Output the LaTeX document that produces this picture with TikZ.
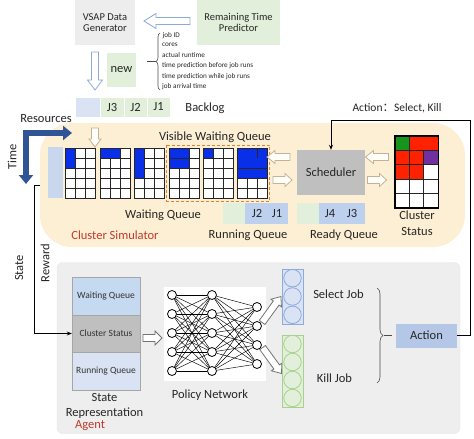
\documentclass[tikz,border=0pt]{standalone}
\usepackage{fontspec}
\setmainfont{Carlito}
\newfontfamily\cjk{Noto Sans CJK SC}
\usetikzlibrary{arrows.meta,decorations.pathreplacing,calc}

\definecolor{genGray}{HTML}{EDEDED}
\definecolor{lgreen}{HTML}{E2EFDA}
\definecolor{lblue}{HTML}{DAE3F3}
\definecolor{wqblue}{HTML}{C5D9F1}
\definecolor{mblue}{HTML}{BDD1EE}
\definecolor{actblue}{HTML}{B4C7E7}
\definecolor{simyellow}{HTML}{FCEFD3}
\definecolor{arrblue}{HTML}{2F5597}
\definecolor{jobblue}{HTML}{0A2FE8}
\definecolor{schedgray}{HTML}{BFBFBF}
\definecolor{simred}{HTML}{C0392B}
\definecolor{agentgray}{HTML}{EEEEEE}
\definecolor{csgreen}{HTML}{16941C}
\definecolor{csred}{HTML}{FF2200}
\definecolor{cspurple}{HTML}{7030A0}
\definecolor{dashorange}{HTML}{ED7D31}
\definecolor{stripblue}{HTML}{C9D7EE}
\definecolor{txtgray}{HTML}{262626}
\definecolor{selborder}{HTML}{8EA9DB}
\definecolor{killborder}{HTML}{A9D18E}
\definecolor{harrowB}{HTML}{BFB49A}

\newcommand\fmain{\fontsize{12.5}{15}\selectfont}
\newcommand\fsmall{\fontsize{7.2}{8}\selectfont}
\newcommand\fboxtxt{\fontsize{10.5}{11.5}\selectfont}

% hollow arrow: cx, cy, angle, length, shaft half width, head half width, head length, style
\newcommand\harrow[8]{%
\begin{scope}[shift={(#1,#2)},rotate=#3]
\draw[#8] (-#4/2,-#5) -- (#4/2-#7,-#5) -- (#4/2-#7,-#6) -- (#4/2,0) -- (#4/2-#7,#6) -- (#4/2-#7,#5) -- (-#4/2,#5) -- cycle;
\end{scope}}

% job grid 3x5 with cell 10
\newcommand\jobgrid[3]{%
\begin{scope}[shift={(#1,#2)}]
\fill[white] (0,0) rectangle (30,50);
\foreach \i in {10,20} \draw[gl] (\i,0) -- (\i,50);
\foreach \j in {10,20,30,40} \draw[gl] (0,\j) -- (30,\j);
#3
\draw[gl] (0,0) rectangle (30,50);
\end{scope}}

\begin{document}
\begin{tikzpicture}[x=1pt,y=-1pt,
  box/.style={inner sep=0, align=center, text=txtgray},
  lbl/.style={inner sep=0, font=\fmain, text=txtgray},
  lst/.style={inner sep=0, font=\fsmall, anchor=west, text=txtgray},
  cell/.style={inner sep=0, draw=white, line width=0.4pt, font=\fmain, text=txtgray},
  gl/.style={draw=black!85, line width=0.9pt},
  job/.style={fill=jobblue, draw=black!85, line width=0.9pt},
  hA/.style={draw=selborder, fill=white, line width=0.8pt},
  hB/.style={draw=harrowB, fill=white!85!simyellow, line width=0.8pt},
  hC/.style={draw=black!55, fill=white, line width=0.8pt},
  conn/.style={draw=black, line width=0.8pt},
  bigarrow/.style={draw=arrblue, line width=6pt, -{Triangle[length=9pt,width=14pt]}},
  neuron/.style={circle, draw=black, line width=0.8pt, fill=white, minimum size=9pt, inner sep=0},
  nnedge/.style={draw=black, line width=0.45pt},
  brc/.style={draw=black!70, line width=0.6pt, decorate}
]
\useasboundingbox (0,0) rectangle (474,439);

% ---------- top part ----------
\node[box, fill=genGray, minimum width=60, minimum height=45, font=\fboxtxt] (gen) at (105,22.5) {VSAP Data\\Generator};
\node[box, fill=lgreen, minimum width=83, minimum height=45, font=\fboxtxt] (pred) at (238.5,22.5) {Remaining Time\\Predictor};
\harrow{167}{21}{180}{46}{3.5}{7.5}{12}{hA}
\harrow{95}{71}{-90}{38}{3.5}{7.5}{10}{hA}
\node[box, fill=lgreen, minimum width=29, minimum height=34, font=\fmain] (new) at (121.5,70) {new};

\draw[brc, decoration={brace, amplitude=4pt}] (160,90) -- (160,33);
\coordinate (brtip) at (156,61.5);
\coordinate (brend) at (147,61.5);
\draw[draw=black!70, line width=0.6pt] (brtip) -- (brend);
\node[lst] (l1) at (162.5,36) {job ID};
\node[lst] (l2) at (162,44.5) {cores};
\node[lst] (l3) at (162,55) {actual runtime};
\node[lst] (l4) at (162,66) {time prediction before job runs};
\node[lst] (l5) at (162,76.5) {time prediction while job runs};
\node[lst] (l6) at (162,87) {job arrival time};

% backlog
\node[cell, fill=lblue, minimum width=25, minimum height=20] (b0) at (87.5,107) {};
\node[cell, fill=lgreen, minimum width=24, minimum height=20] (bJ3) at (112,107) {J3};
\node[cell, fill=lgreen, minimum width=23, minimum height=20] (bJ2) at (135.5,107) {J2};
\node[cell, fill=lgreen, minimum width=23, minimum height=20] (bJ1) at (158.5,107) {J1};
\node[lbl] (backlog) at (205,108) {Backlog};

\node[lbl, font=\fontsize{11.5}{13}\selectfont] (actlbl) at (397,108) {Action{\cjk ：}Select, Kill};
\node[lbl] (res) at (46,119) {Resources};

% ---------- cluster simulator ----------
\node[fill=simyellow, rounded corners=32, minimum width=425, minimum height=124, inner sep=0] (sim) at (252.5,185) {};

\coordinate (rtH) at (23,133);
\coordinate (resEnd) at (72,133);
\coordinate (rtV) at (26,130);
\coordinate (timeEnd) at (26,184);
\draw[bigarrow] (rtH) -- (resEnd);
\draw[bigarrow] (rtV) -- (timeEnd);
\node[lbl, rotate=90] (time) at (12,157) {Time};

\harrow{95}{137.5}{-90}{19}{3.5}{6}{8}{hB}
\node[lbl] (vwq) at (215,137) {Visible Waiting Queue};

\fill[stripblue] (48,147) rectangle (63,198);
\jobgrid{65}{148}{\draw[job] (0,0) rectangle (10,20);}
\jobgrid{100}{148}{\draw[job] (0,0) rectangle (20,10);}
\jobgrid{134}{148}{\draw[job] (0,0) rectangle (10,30);}
\jobgrid{169}{148}{\draw[job] (0,0) rectangle (20,20); \draw[gl] (0,10) -- (20,10);}
\jobgrid{203}{148}{\draw[job] (0,0) rectangle (10,10);}
\jobgrid{237}{148}{\draw[job] (0,0) rectangle (30,30); \draw[gl] (0,20) -- (30,20); \draw[gl] (20,0) -- (20,10);}
\draw[dashorange, line width=0.9pt, dash pattern=on 3pt off 2pt] (166.5,145) rectangle (269.5,201);

\node[box, fill=schedgray, minimum width=68, minimum height=45, font=\fmain] (sched) at (331,172.5) {Scheduler};
\harrow{278.5}{157}{180}{23}{3.5}{6.5}{8}{hB}
\harrow{282.5}{180}{0}{19}{3.5}{6.5}{7}{hB}
\harrow{377}{157}{180}{23}{3.5}{6.5}{8}{hB}
\harrow{377}{180}{0}{19}{3.5}{6.5}{7}{hB}

% cluster status grid
\fill[csgreen] (395,136) rectangle (409.4,150.4);
\fill[csred] (409.4,136) rectangle (438.2,150.4);
\fill[csred] (395,150.4) rectangle (423.8,179.2);
\fill[cspurple] (423.8,150.4) rectangle (438.2,164.8);
\fill[white] (423.8,164.8) rectangle (438.2,179.2);
\fill[white] (395,179.2) rectangle (438.2,208);
\foreach \yy in {150.4,164.8,179.2,193.6} \draw[gl] (395,\yy) -- (438.2,\yy);
\draw[gl] (409.4,136) -- (409.4,208);
\draw[gl] (423.8,150.4) -- (423.8,208);
\draw[draw=black, line width=1.2pt] (395,136) rectangle (438.2,208);
\node[lbl, align=center, font=\fontsize{12.5}{15.5}\selectfont] (cslbl) at (417,223) {Cluster\\Status};

% running / ready queue
\node[cell, draw=none, fill=lgreen, minimum width=22, minimum height=21] (rqG) at (234,213.5) {};
\node[cell, draw=none, fill=mblue, minimum width=43, minimum height=21] (rqB) at (266.5,213.5) {};
\node[lbl] (rJ2) at (257,213.5) {J2};
\node[lbl] (rJ1) at (277,213.5) {J1};
\node[cell, draw=none, fill=lgreen, minimum width=22, minimum height=21] (rdG) at (308,213.5) {};
\node[cell, draw=none, fill=mblue, minimum width=46, minimum height=21] (rdB) at (342,213.5) {};
\node[lbl] (dJ4) at (330,213.5) {J4};
\node[lbl] (dJ3) at (352,213.5) {J3};

\node[lbl] (wqlbl) at (163,215) {Waiting Queue};
\node[lbl, text=simred] (simlbl) at (115,235) {Cluster Simulator};
\node[lbl] (rqlbl) at (248,235) {Running Queue};
\node[lbl] (rdlbl) at (344,235) {Ready Queue};

% ---------- agent ----------
\node[fill=agentgray, draw=black!10, rounded corners=6, minimum width=403, minimum height=171, inner sep=0] (agent) at (258.5,348) {};

\node[lbl, rotate=90] (statelbl) at (19,268) {State};
\node[lbl, rotate=90] (rewlbl) at (45,263) {Reward};

\node[box, fill=wqblue, draw=black!35, minimum width=68, minimum height=38, font=\fontsize{9.5}{11}\selectfont, text=black!80] (srWQ) at (106,296) {Waiting Queue};
\node[box, fill=schedgray, draw=black!35, minimum width=68, minimum height=37, font=\fontsize{9.5}{11}\selectfont, text=black!80] (srCS) at (106,333.5) {Cluster Status};
\node[box, fill=lblue, draw=black!35, minimum width=68, minimum height=38, font=\fontsize{9.5}{11}\selectfont, text=black!80] (srRQ) at (106,371) {Running Queue};
\node[lbl] (st1) at (104.5,397) {State};
\node[lbl] (st2) at (104.5,413) {Representation};
\node[lbl, text=simred] (agentlbl) at (90,426) {Agent};

\draw[conn, -{Stealth[length=5pt,width=4pt]}] (sim.west) -- ++(-5,0) |- (srCS.west);

\harrow{152.5}{338}{0}{19}{3.5}{7}{7}{hC}

% policy network
\fill[white] (164,287) rectangle (266,381);
\foreach \i/\yy in {1/295,2/314,3/333,4/352,5/371} {
  \node[neuron] (a\i) at (172,\yy) {};
  \node[neuron] (b\i) at (212,\yy) {};
}
\foreach \i/\yy in {1/307,2/326,3/345,4/364} \node[neuron] (c\i) at (257,\yy) {};
\foreach \i in {1,...,5} \foreach \j in {1,...,5} \draw[nnedge] (a\i) -- (b\j);
\foreach \i in {1,...,5} \foreach \j in {1,...,4} \draw[nnedge] (b\i) -- (c\j);
\node[lbl] (pnlbl) at (210,395) {Policy Network};

\harrow{271.5}{309.5}{54}{32}{3.5}{6.5}{8}{hC}
\harrow{272}{360.5}{-54}{32}{3.5}{6.5}{8}{hC}

% output heads
\node[fill=lblue, draw=selborder, line width=0.8pt, minimum width=21, minimum height=55, inner sep=0] (selcol) at (292.5,296.5) {};
\foreach \k/\yy in {1/278.2,2/296.5,3/314.8}
  \node[circle, draw=selborder, fill=lblue, line width=0.8pt, minimum size=17.5, inner sep=0] (s\k) at (292.5,\yy) {};
\node[fill=lgreen, draw=killborder, line width=0.8pt, minimum width=21, minimum height=72, inner sep=0] (killcol) at (292.5,371) {};
\foreach \k/\yy in {1/344,2/362,3/380,4/398}
  \node[circle, draw=killborder, fill=lgreen, line width=0.8pt, minimum size=17.5, inner sep=0] (k\k) at (292.5,\yy) {};
\node[lbl] (sellbl) at (338.5,294) {Select Job};
\node[lbl] (killlbl) at (334.5,378) {Kill Job};

\draw[brc, decoration={brace, amplitude=6pt}] (377,288) -- (377,383);
\coordinate (rbtip) at (384,335.5);
\coordinate (rbend) at (392,335.5);
\draw[draw=black!70, line width=0.6pt] (rbtip) -- (rbend);

\node[box, fill=actblue, minimum width=61, minimum height=24, font=\fmain] (action) at (426.5,335.5) {Action};

\coordinate (c1) at (470,335.5);
\coordinate (c2) at (470,120);
\draw[conn, -{Stealth[length=5pt,width=4pt]}] (action.east) -- (c1) -- (c2) -- (sched.north |- c2) -- (sched.north);

\end{tikzpicture}
\end{document}
